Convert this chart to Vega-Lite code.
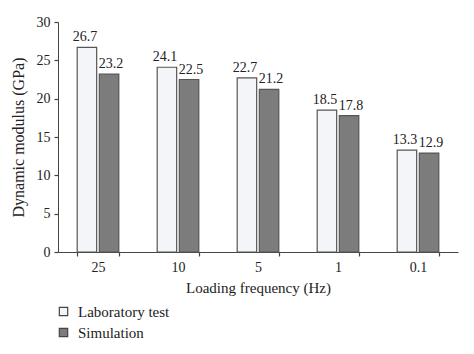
{
  "$schema": "https://vega.github.io/schema/vega-lite/v6.json",
  "autosize": "none",
  "width": 400,
  "height": 230,
  "padding": {"left": 58, "top": 22, "right": 16, "bottom": 102},
  "background": "white",
  "config": {
    "font": "Liberation Serif",
    "view": {"stroke": null},
    "axis": {"labelFont": "Liberation Serif", "titleFont": "Liberation Serif", "labelColor": "#222", "titleColor": "#222", "domainColor": "#444", "tickColor": "#444", "labelFontSize": 14, "titleFontSize": 15, "titleFontWeight": "normal", "grid": false}
  },
  "data": {
    "values": [
      {"freq": "25", "type": "Laboratory test", "value": 26.7},
      {"freq": "25", "type": "Simulation", "value": 23.2},
      {"freq": "10", "type": "Laboratory test", "value": 24.1},
      {"freq": "10", "type": "Simulation", "value": 22.5},
      {"freq": "5", "type": "Laboratory test", "value": 22.7},
      {"freq": "5", "type": "Simulation", "value": 21.2},
      {"freq": "1", "type": "Laboratory test", "value": 18.5},
      {"freq": "1", "type": "Simulation", "value": 17.8},
      {"freq": "0.1", "type": "Laboratory test", "value": 13.3},
      {"freq": "0.1", "type": "Simulation", "value": 12.9}
    ]
  },
  "encoding": {
    "x": {
      "field": "freq", "type": "nominal", "sort": ["25", "10", "5", "1", "0.1"],
      "scale": {"paddingInner": 0.48, "paddingOuter": 0.24},
      "axis": {"title": "Loading frequency (Hz)", "labelAngle": 0, "ticks": true, "tickBand": "extent", "tickSize": 4, "tickWidth": 1.2, "labelPadding": 4, "titlePadding": 6}
    },
    "xOffset": {"field": "type", "type": "nominal", "scale": {"paddingInner": 0.12}},
    "y": {
      "field": "value", "type": "quantitative",
      "scale": {"domain": [0, 30]},
      "axis": {"title": "Dynamic modulus (GPa)", "values": [0, 5, 10, 15, 20, 25, 30], "ticks": true, "tickSize": 4, "tickWidth": 1.2, "labelPadding": 4, "titlePadding": 10, "titleFontSize": 16}
    }
  },
  "layer": [
    {
      "mark": {"type": "bar", "stroke": "#555", "strokeWidth": 1.2},
      "encoding": {
        "color": {
          "field": "type", "type": "nominal",
          "scale": {"domain": ["Laboratory test", "Simulation"], "range": ["#f3f5f9", "#7c7c7c"]},
          "legend": {
            "title": null, "orient": "none", "legendX": -2, "legendY": 282, "direction": "vertical",
            "symbolType": "square", "symbolSize": 70, "symbolStrokeColor": "#444", "symbolStrokeWidth": 1.2,
            "labelFont": "Liberation Serif", "labelFontSize": 15, "labelColor": "#222", "rowPadding": 5, "labelOffset": 7
          }
        }
      }
    },
    {
      "transform": [{"filter": "datum.type === 'Laboratory test'"}],
      "mark": {"type": "text", "baseline": "bottom", "dy": -3, "dx": -2, "fontSize": 14, "color": "#222"},
      "encoding": {"text": {"field": "value", "type": "quantitative", "format": ".1f"}}
    },
    {
      "transform": [{"filter": "datum.type === 'Simulation'"}],
      "mark": {"type": "text", "baseline": "bottom", "dy": -3, "dx": 2, "fontSize": 14, "color": "#222"},
      "encoding": {"text": {"field": "value", "type": "quantitative", "format": ".1f"}}
    }
  ]
}
